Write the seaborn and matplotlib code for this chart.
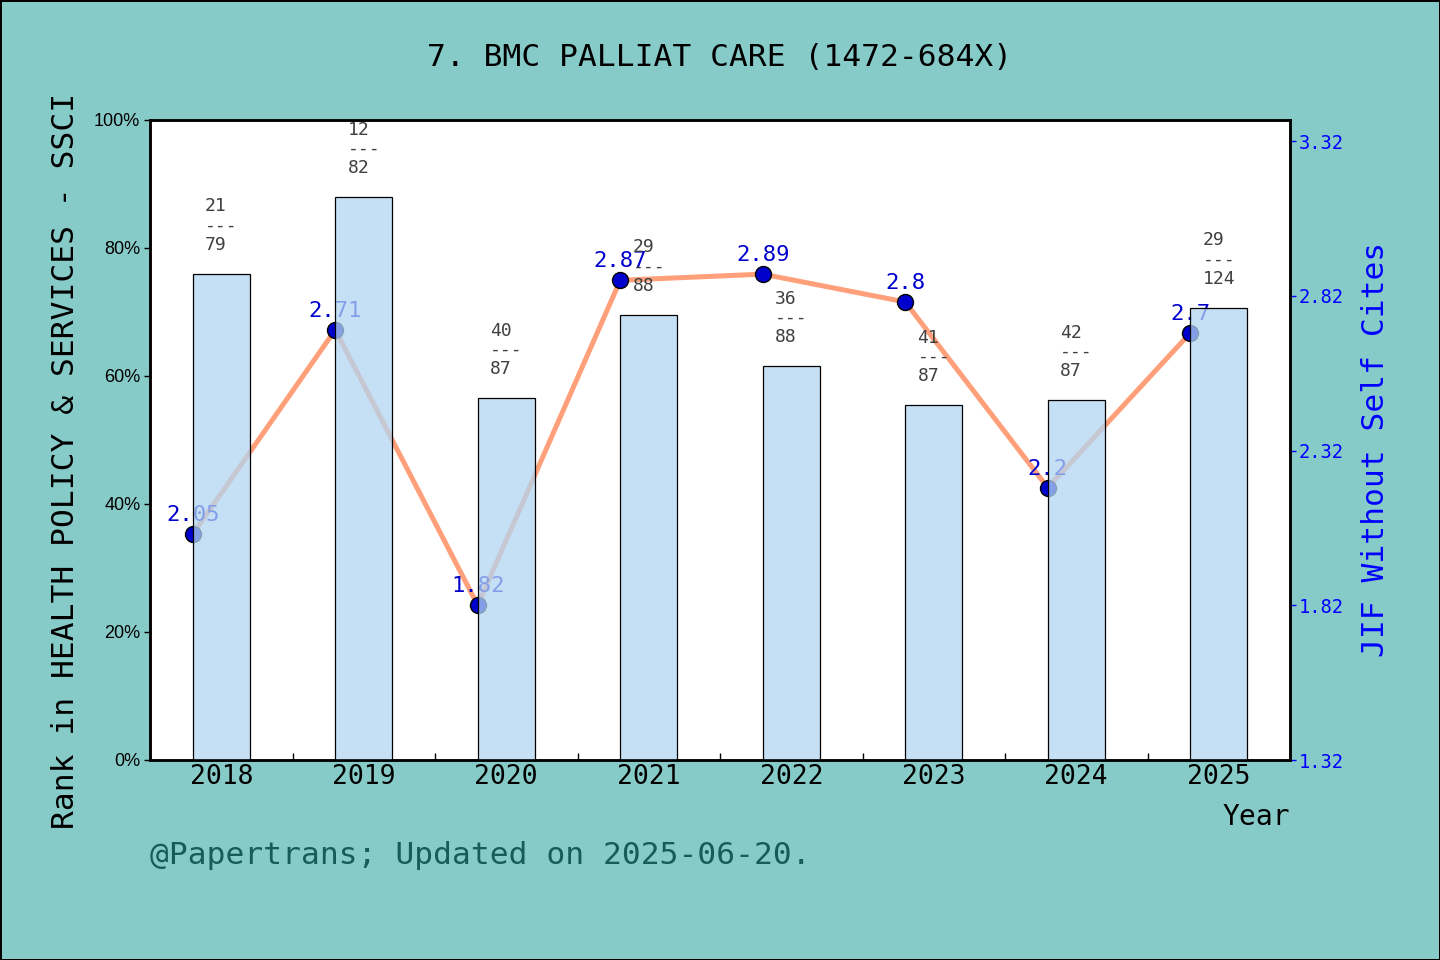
import matplotlib
matplotlib.use("Agg")
import matplotlib.pyplot as plt
import matplotlib.ticker as mticker
from matplotlib import font_manager
from matplotlib.colors import to_rgba
import numpy as np
import pandas as pd
import seaborn as sns

years = ["2018", "2019", "2020", "2021", "2022", "2023", "2024", "2025"]
rank_pct = [75.9, 87.9, 56.5, 69.5, 61.5, 55.4, 56.2, 70.6]
ranks = [21, 12, 40, 29, 36, 41, 42, 29]
totals = [79, 82, 87, 88, 88, 87, 87, 124]
jif = [2.05, 2.71, 1.82, 2.87, 2.89, 2.8, 2.2, 2.7]

bg = "#87cbc9"

sns.set_style("ticks")
available = {f.name for f in font_manager.fontManager.ttflist}
if "Noto Sans Mono CJK SC" in available:
    HEI = "Noto Sans Mono CJK SC"
    big, tick_big, val_size, rtick = 26, 21, 18, 15
else:
    HEI = "DejaVu Sans Mono"
    big, tick_big, val_size, rtick = 22.5, 19, 16, 13.5
plt.rcParams["font.family"] = ["Liberation Sans", "DejaVu Sans"]
plt.rcParams["text.color"] = "black"
plt.rcParams["axes.labelcolor"] = "black"
plt.rcParams["xtick.color"] = "black"
plt.rcParams["ytick.color"] = "black"

fig = plt.figure(figsize=(14.4, 9.6), dpi=100, facecolor=bg,
                 edgecolor="black", linewidth=1)
ax1 = fig.add_axes([150 / 1440, 1 - 760 / 960, 1140 / 1440, 640 / 960])
ax2 = ax1.twinx()
# bars sit above the line so the line shows through them
ax1.set_zorder(2)
ax2.set_zorder(1)
ax1.patch.set_visible(False)
ax2.patch.set_visible(True)
ax2.patch.set_facecolor("white")

df = pd.DataFrame({"year": years, "pct": rank_pct})
sns.barplot(data=df, x="year", y="pct", ax=ax1, width=0.4, color="#b2d6f2",
            saturation=1, edgecolor="black", linewidth=0.9)
for p in ax1.patches:
    p.set_alpha(None)
    p.set_facecolor(to_rgba("#b2d6f2", 0.75))
    p.set_edgecolor("black")

for i, (r, t, v) in enumerate(zip(ranks, totals, rank_pct)):
    ax1.annotate(f"{r}\n---\n{t}", (i, v), xytext=(0, 20), textcoords="offset pixels",
                 ha="center", va="bottom", multialignment="left",
                 fontsize=13, color="#404040", linespacing=1.1,
                 family="DejaVu Sans Mono")

xpos = np.arange(len(years)) - 0.2
sns.lineplot(x=xpos, y=jif, ax=ax2, color="lightsalmon", linewidth=3.6,
             marker="o", markersize=11.5, markerfacecolor="mediumblue",
             markeredgecolor="black", markeredgewidth=1)
for x, v in zip(xpos, jif):
    ax2.annotate(f"{v:g}", (x, v), xytext=(0, 9), textcoords="offset pixels",
                 ha="center", va="bottom", fontsize=val_size, color="mediumblue",
                 family=HEI)

ax1.set_xlim(-0.5, 7.5)
ax1.set_ylim(0, 100)
ax2.set_ylim(1.32, 3.388)

ax1.yaxis.set_major_locator(mticker.MultipleLocator(20))
ax1.yaxis.set_major_formatter(mticker.PercentFormatter(100, decimals=0))
ax1.tick_params(axis="y", direction="out", length=4, width=1, labelsize=13, pad=3)
ax1.set_xticks(range(len(years)))
ax1.set_xticklabels(years, family=HEI, fontsize=tick_big)
ax1.xaxis.set_minor_locator(mticker.FixedLocator(np.arange(len(years) - 1) + 0.5))
ax1.tick_params(axis="x", which="major", length=0, pad=3)
ax1.tick_params(axis="x", which="minor", direction="in", length=5, width=1)

ax2.set_yticks([1.32, 1.82, 2.32, 2.82, 3.32])
ax2.yaxis.set_major_formatter(mticker.FormatStrFormatter("%.2f"))
ax2.tick_params(axis="y", direction="out", length=4, width=1, colors="blue",
                labelsize=rtick, pad=2)
for lab in ax2.get_yticklabels():
    lab.set_family(HEI)

for ax in (ax1, ax2):
    for s in ax.spines.values():
        s.set_linewidth(1.8)
        s.set_color("black")
        s.set_visible(True)

ax1.set_xlabel("")
ax1.set_ylabel("Rank in HEALTH POLICY & SERVICES - SSCI", family=HEI, fontsize=big)
ax1.yaxis.set_label_coords(-0.061, 0.467)
ax2.set_ylabel("JIF Without Self Cites", family=HEI, fontsize=big, color="blue")
ax2.yaxis.set_label_coords(1.062, 0.486)

fig.text(1290 / 1440, 1 - 817 / 960, "Year", ha="right", va="center",
         family=HEI, fontsize=big * 0.9)
fig.text(0.5, 1 - 57 / 960, "7. BMC PALLIAT CARE (1472-684X)", ha="center",
         va="center", family=HEI, fontsize=big)
fig.text(150 / 1440, 1 - 855 / 960, "@Papertrans; Updated on 2025-06-20.",
         ha="left", va="center", family=HEI, fontsize=big, color="#175c58")

plt.savefig("out.png", dpi=100, facecolor=bg, edgecolor="black")
